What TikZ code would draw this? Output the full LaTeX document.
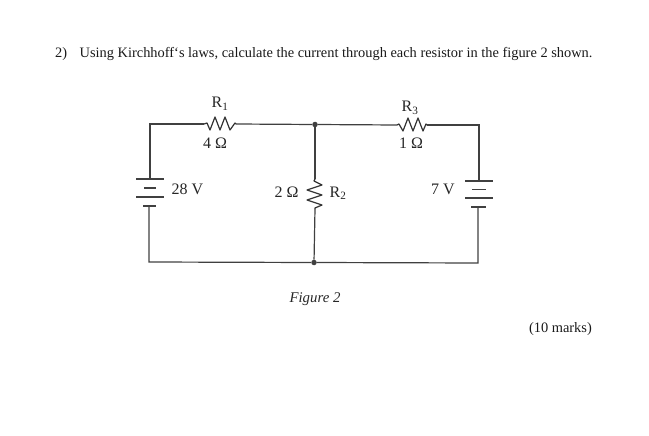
\documentclass[tikz,border=0pt]{standalone}
\usepackage{fontspec}
\setmainfont{Liberation Serif}
\tikzset{
  wire/.style={draw=black!75,line width=1.2pt,line join=miter},
  plate/.style={draw=black!75,line width=1.2pt},
  res/.style={draw=black!80,line width=1.2pt,line join=round},
  dotnode/.style={circle,fill=black!75,inner sep=0pt,minimum size=5.5pt},
  lab/.style={inner sep=0pt,font=\fontsize{16}{18}\selectfont,text=black!85},
  ttl/.style={inner sep=0pt,anchor=base west,font=\fontsize{14.4}{16}\selectfont,text=black!90}
}
\begin{document}
\begin{tikzpicture}[x=1pt,y=-1pt]
\useasboundingbox (0,0) rectangle (649,436);
% text
\node[ttl] (title) at (55,57.5) {2)\hspace{12.5pt}Using Kirchhoff`s laws, calculate the current through each resistor in the figure 2 shown.};
\node[lab,anchor=base] (fig) at (315,302) {\fontsize{14.8}{16}\selectfont\itshape Figure 2};
\node[ttl,anchor=base east] (marks) at (592,332) {(10 marks)};
% junctions and corners
\node[dotnode] (top) at (315,124.5) {};
\node[dotnode] (bot) at (314,262.5) {};
\coordinate (tl) at (150,124);
\coordinate (bl) at (149,262);
\coordinate (tr) at (479,125);
\coordinate (br) at (478,263);
% left battery
\coordinate (bat1a) at (136,179); \coordinate (bat1b) at (164,179);
\coordinate (bat2a) at (144,188); \coordinate (bat2b) at (156,188);
\coordinate (bat3a) at (136,197); \coordinate (bat3b) at (164,197);
\coordinate (bat4a) at (143,206); \coordinate (bat4b) at (156,206);
\coordinate (bat1t) at (150,179); \coordinate (bat4t) at (149,206);
\draw[plate] (bat1a) -- (bat1b);
\draw[plate,line width=1.6pt] (bat2a) -- (bat2b);
\draw[plate] (bat3a) -- (bat3b);
\draw[plate] (bat4a) -- (bat4b);
% right battery
\coordinate (cat1a) at (465,181); \coordinate (cat1b) at (493,181);
\coordinate (cat2a) at (472,189.5); \coordinate (cat2b) at (486,189.5);
\coordinate (cat3a) at (465,198); \coordinate (cat3b) at (493,198);
\coordinate (cat4a) at (471,207); \coordinate (cat4b) at (486,207);
\coordinate (cat1t) at (479,181); \coordinate (cat4t) at (478,207);
\draw[plate] (cat1a) -- (cat1b);
\draw[plate,line width=1.6pt] (cat2a) -- (cat2b);
\draw[plate] (cat3a) -- (cat3b);
\draw[plate] (cat4a) -- (cat4b);
% resistors
\coordinate (r1a) at (204,124); \coordinate (r1b) at (236,124);
\coordinate (r3a) at (397,125); \coordinate (r3b) at (427,125);
\coordinate (r2a) at (315,179); \coordinate (r2b) at (315,209);
\draw[res] (r1a) -- ++(3,-1) -- ++(3,7) -- ++(5,-13) -- ++(5,13) -- ++(5,-13) -- ++(5,13) -- ++(5,-7) -- (r1b);
\draw[res] (r3a) -- ++(2,-1) -- ++(4,7) -- ++(5,-13) -- ++(5,13) -- ++(5,-13) -- ++(5,13) -- ++(3,-7) -- (r3b);
\draw[res] (r2a) -- ++(-1,2) -- ++(8,4) -- ++(-15,5) -- ++(15,5) -- ++(-15,5) -- ++(15,5) -- ++(-7,3) -- (r2b);
% wires
\draw[wire] (bat1t) -- (tl) -- (r1a);
\draw[wire] (r1b) -- (top);
\draw[wire] (top) -- (r3a);
\draw[wire] (r3b) -- (tr) -- (cat1t);
\draw[wire] (cat4t) -- (br) -- (bot);
\draw[wire] (bot) -- (bl) -- (bat4t);
\draw[wire] (top) -- (r2a);
\draw[wire] (r2b) -- (bot);
% labels
\node[lab,anchor=base] (r1l) at (220,108) {R\textsubscript{1}};
\node[lab,anchor=base] (r1v) at (215,149) {4 Ω};
\node[lab,anchor=base] (r3l) at (410,112) {R\textsubscript{3}};
\node[lab,anchor=base] (r3v) at (411,149) {1 Ω};
\node[lab,anchor=base] (v1) at (187.5,194) {28 V};
\node[lab,anchor=base] (r2v) at (286.5,197) {2 Ω};
\node[lab,anchor=base] (r2l) at (338,197) {R\textsubscript{2}};
\node[lab,anchor=base] (v2) at (443,194) {7 V};
\end{tikzpicture}
\end{document}
